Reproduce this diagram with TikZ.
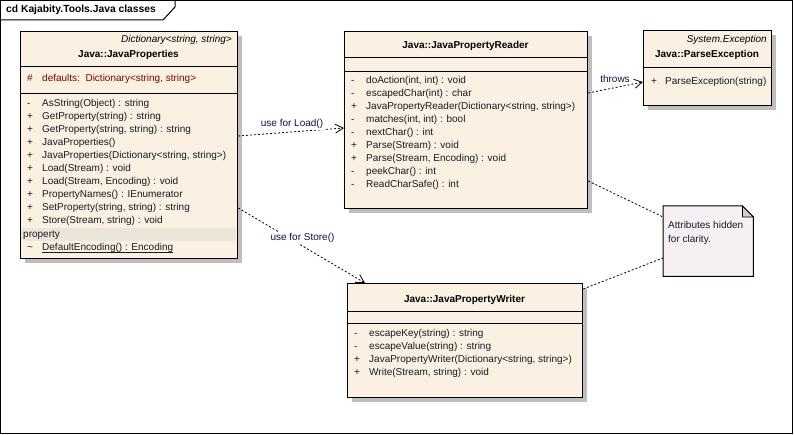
\documentclass[tikz,border=0pt]{standalone}
\usepackage{fontspec}
\setmainfont{Liberation Sans}
\usetikzlibrary{arrows.meta,shadows}
\definecolor{ClassFill}{RGB}{251,241,227}
\definecolor{NoteFill}{RGB}{246,240,245}
\definecolor{FoldGrey}{RGB}{205,205,210}
\definecolor{ShadowGrey}{RGB}{190,190,190}
\definecolor{BandGrey}{RGB}{236,229,218}
\definecolor{AttrRed}{RGB}{128,0,0}
\definecolor{MemberText}{RGB}{25,25,35}
\definecolor{LabelNavy}{RGB}{10,20,70}
\newcommand{\umlsize}{\fontsize{10}{12}\selectfont}
\newcommand{\vis}[1]{\makebox[15pt][l]{#1}}
\newcommand{\staticline}[1]{\rlap{\rule[-1.2pt]{\widthof{#1}}{0.6pt}}#1}
\usepackage{calc}
\tikzstyle{classbox} = [rectangle, draw=black, line width=1.2pt, fill=ClassFill, inner sep=0pt, anchor=north west, general shadow={fill=ShadowGrey, shadow xshift=4pt, shadow yshift=-4pt}]
\tikzstyle{member} = [anchor=west, inner sep=0pt, text height=8pt, text depth=2pt, font=\umlsize, text=MemberText]
\tikzstyle{classname} = [inner sep=0pt, text height=8pt, text depth=2pt, font=\umlsize\bfseries]
\tikzstyle{stereotype} = [anchor=east, inner sep=0pt, text height=8pt, text depth=2pt, font=\umlsize\itshape]
\tikzstyle{separator} = [line width=0.8pt]
\tikzstyle{connlabel} = [inner sep=1pt, fill=white, font=\umlsize, text=LabelNavy]
\tikzstyle{dependency} = [line width=0.8pt, dash pattern=on 2pt off 2pt, ->, >={Straight Barb[length=8pt,width=9pt]}]
\tikzstyle{notelink} = [line width=0.8pt, dash pattern=on 2pt off 2pt]

\begin{document}
\begin{tikzpicture}[x=1pt, y=-1pt]
\useasboundingbox (0,0) rectangle (794,435);
\fill[white] (0,0) rectangle (794,435);

% Cadre du diagramme
\draw[line width=1pt] (0.5,0.5) rectangle (792.5,433.5);
\draw[line width=1pt] (0.5,20) -- (163,20) -- (175,7) -- (175,0.5);
\node (title) [anchor=west, inner sep=0pt, font=\fontsize{10.3}{12}\selectfont\bfseries] at (6,10) {cd Kajabity.Tools.Java classes};

% JavaProperties
\node (props) [classbox, minimum width=217pt, minimum height=227pt] at (20,31) {};
\node (propsstereo) [stereotype] at (232,40) {Dictionary<string, string>};
\node (propsname) [classname] at (128.5,55) {Java::JavaProperties};
\draw [separator] (props.west |- 0,66) -- (props.east |- 0,66);
\node (propsattr) [member, text=AttrRed] at (27,79) {\vis{\#}defaults:\ \ Dictionary<string, string>};
\draw [separator] (props.west |- 0,93) -- (props.east |- 0,93);
\foreach \m/\t [count=\i] in {-/{AsString(Object) : string}, +/{GetProperty(string) : string}, +/{GetProperty(string, string) : string}, +/{JavaProperties()}, +/{JavaProperties(Dictionary<string, string>)}, +/{Load(Stream) : void}, +/{Load(Stream, Encoding) : void}, +/{PropertyNames() : IEnumerator}, +/{SetProperty(string, string) : string}, +/{Store(Stream, string) : void}}
  \node (propsop\i) [member] at (27,91+13*\i) {\vis{\m}\t};
\fill[BandGrey] (21,228) rectangle (236,241);
\node (propsband) [member] at (23,234.5) {property};
\node (propsstatic) [member] at (27,248) {\vis{\textasciitilde}\staticline{DefaultEncoding() : Encoding}};

% JavaPropertyReader
\node (reader) [classbox, minimum width=243pt, minimum height=177pt] at (344,31) {};
\node (readername) [classname] at (465.5,46) {Java::JavaPropertyReader};
\draw [separator] (reader.west |- 0,57) -- (reader.east |- 0,57);
\draw [separator] (reader.west |- 0,71) -- (reader.east |- 0,71);
\foreach \m/\t [count=\i] in {-/{doAction(int, int) : void}, -/{escapedChar(int) : char}, +/{JavaPropertyReader(Dictionary<string, string>)}, -/{matches(int, int) : bool}, -/{nextChar() : int}, +/{Parse(Stream) : void}, +/{Parse(Stream, Encoding) : void}, -/{peekChar() : int}, -/{ReadCharSafe() : int}}
  \node (readerop\i) [member] at (351,68.1+12.9*\i) {\vis{\m}\t};

% ParseException
\node (parseex) [classbox, minimum width=128pt, minimum height=75pt] at (643,30) {};
\node (parseexstereo) [stereotype] at (767,40) {System.Exception};
\node (parseexname) [classname] at (707,55) {Java::ParseException};
\draw [separator] (parseex.west |- 0,67) -- (parseex.east |- 0,67);
\node (parseexop) [member] at (651,82) {\makebox[14pt][l]{+}ParseException(string)};

% JavaPropertyWriter
\node (writer) [classbox, minimum width=235pt, minimum height=114pt] at (347,283) {};
\node (writername) [classname] at (464.5,299) {Java::JavaPropertyWriter};
\draw [separator] (writer.west |- 0,311) -- (writer.east |- 0,311);
\draw [separator] (writer.west |- 0,323) -- (writer.east |- 0,323);
\foreach \m/\t [count=\i] in {-/{escapeKey(string) : string}, -/{escapeValue(string) : string}, +/{JavaPropertyWriter(Dictionary<string, string>)}, +/{Write(Stream, string) : void}}
  \node (writerop\i) [member] at (354,320+13*\i) {\vis{\m}\t};

% Note
\node (note) [rectangle, inner sep=0pt, anchor=north west, minimum width=90pt, minimum height=70pt] at (663,206) {};
\draw[line width=1pt, fill=NoteFill] (note.north west) -- ([xshift=-11pt]note.north east) -- ([yshift=-11pt]note.north east) -- (note.south east) -- (note.south west) -- cycle;
\draw[line width=0.8pt, fill=FoldGrey] ([xshift=-11pt]note.north east) -- ([xshift=-11pt,yshift=-11pt]note.north east) -- ([yshift=-11pt]note.north east) -- cycle;
\node (notel1) [member] at (668,226) {Attributes hidden};
\node (notel2) [member] at (668,240) {for clarity.};

% Dependances
\draw [dependency] (props.east |- 0,136) -- (reader.west |- 0,128);
\node (loadlabel) [connlabel] at (292,124) {use for Load()};
\draw [dependency] (props.east |- 0,208) -- (writer.north -| 365,0);
\node (storelabel) [connlabel] at (302.5,238) {use for Store()};
\draw [dependency] (reader.east |- 0,93) -- (parseex.west |- 0,82);
\node (throwslabel) [connlabel, fill=none] at (615,79) {throws};

% Liens de la note
\draw [notelink] (reader.east |- 0,181) -- (note.west |- 0,217);
\draw [notelink] (writer.east |- 0,289) -- (note.west |- 0,258);

\end{tikzpicture}
\end{document}
